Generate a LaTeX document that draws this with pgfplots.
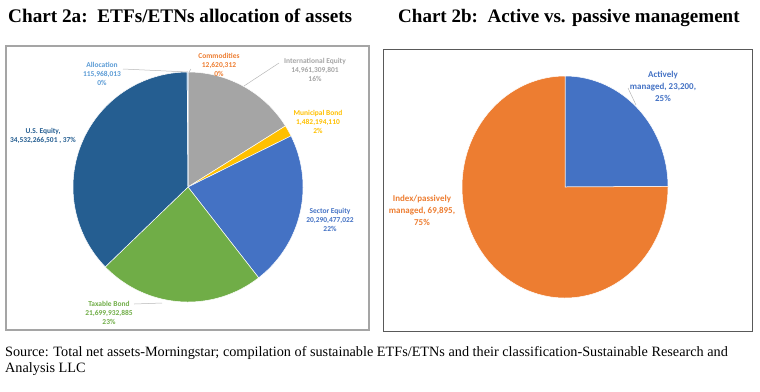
\documentclass[border=0pt]{standalone}
\usepackage{pgfplots}
\pgfplotsset{compat=1.18}
\usepackage{fontspec}
\setmainfont{Liberation Serif}
\newfontfamily\lbl{Carlito}
\definecolor{cUS}{HTML}{255E91}
\definecolor{cGray}{HTML}{A5A5A5}
\definecolor{cYel}{HTML}{FFC000}
\definecolor{cBlue}{HTML}{4472C4}
\definecolor{cGreen}{HTML}{70AD47}
\definecolor{cOrange}{HTML}{ED7D31}
\definecolor{cLBlue}{HTML}{5B9BD5}
% values in billions USD (left) and thousands (right)
\def\vComm{0.012620312}
\def\vIntl{14.961309801}
\def\vMuni{1.482194110}
\def\vSect{20.290477022}
\def\vTax{21.699932885}
\def\vUS{34.532266501}
\def\vAlloc{0.115968013}
\def\vAct{23.200}
\def\vPas{69.895}
\begin{document}
\begin{tikzpicture}[x=1bp,y=-1bp]
\path[use as bounding box] (0,0) rectangle (760,391);
\pgfmathsetmacro\tot{\vComm+\vIntl+\vMuni+\vSect+\vTax+\vUS+\vAlloc}
\pgfmathsetmacro\aA{90}
\pgfmathsetmacro\aB{\aA-360*\vComm/\tot}
\pgfmathsetmacro\aC{\aB-360*\vIntl/\tot}
\pgfmathsetmacro\aD{\aC-360*\vMuni/\tot}
\pgfmathsetmacro\aE{\aD-360*\vSect/\tot}
\pgfmathsetmacro\aF{\aE-360*\vTax/\tot}
\pgfmathsetmacro\aG{\aF-360*\vUS/\tot}
\pgfmathsetmacro\aH{-270}
\pgfmathsetmacro\totb{\vAct+\vPas}
\pgfmathsetmacro\bB{90-360*\vAct/\totb}
% titles
\node[anchor=base west,inner sep=0,font=\fontsize{19.3}{22}\selectfont\bfseries] at (8,22) {Chart 2a:\ \ ETFs/ETNs allocation of assets};
\node[anchor=base west,inner sep=0,font=\fontsize{19.1}{22}\selectfont\bfseries] at (398,22) {Chart 2b:\ \ Active vs. passive management};
% frames
\draw[color=cGray,line width=1.5bp] (6,46) rectangle (369,330);
\draw[color=black!65,line width=1bp] (383,49) rectangle (752,331);
% left pie
\begin{axis}[at={(188bp,-187bp)},anchor=origin,x=115bp,y=115bp,xmin=-1.1,xmax=1.1,ymin=-1.1,ymax=1.1,hide axis,clip=false]
\addplot[fill=cOrange,draw=white,line width=0.5pt,domain=\aB:\aA,samples=2] ({cos(x)},{sin(x)}) -- (axis cs:0,0) -- cycle;
\addplot[fill=cGray,draw=white,line width=0.5pt,domain=\aC:\aB,samples=60] ({cos(x)},{sin(x)}) -- (axis cs:0,0) -- cycle;
\addplot[fill=cYel,draw=white,line width=0.5pt,domain=\aD:\aC,samples=10] ({cos(x)},{sin(x)}) -- (axis cs:0,0) -- cycle;
\addplot[fill=cBlue,draw=white,line width=0.5pt,domain=\aE:\aD,samples=60] ({cos(x)},{sin(x)}) -- (axis cs:0,0) -- cycle;
\addplot[fill=cGreen,draw=white,line width=0.5pt,domain=\aF:\aE,samples=60] ({cos(x)},{sin(x)}) -- (axis cs:0,0) -- cycle;
\addplot[fill=cUS,draw=white,line width=0.5pt,domain=\aG:\aF,samples=90] ({cos(x)},{sin(x)}) -- (axis cs:0,0) -- cycle;
\addplot[fill=cLBlue,draw=white,line width=0.5pt,domain=\aH:\aG,samples=2] ({cos(x)},{sin(x)}) -- (axis cs:0,0) -- cycle;
\end{axis}
% right pie
\begin{axis}[at={(565bp,-187bp)},anchor=origin,x=103bp,y=111bp,xmin=-1.1,xmax=1.1,ymin=-1.1,ymax=1.1,hide axis,clip=false]
\addplot[fill=cBlue,draw=white,line width=0.5pt,domain=\bB:90,samples=60] ({cos(x)},{sin(x)}) -- (axis cs:0,0) -- cycle;
\addplot[fill=cOrange,draw=white,line width=0.5pt,domain=-270:\bB,samples=150] ({cos(x)},{sin(x)}) -- (axis cs:0,0) -- cycle;
\end{axis}
% leader lines
\draw[cGray!80,line width=0.5bp] (123,69) -- (188,72);
\draw[cGray!80,line width=0.5bp] (189,72) -- (191,69);
\draw[cGray!80,line width=0.5bp] (279,63) -- (244,86);
\draw[cGray!80,line width=0.5bp] (134,304) -- (162,303);
\draw[cGray!80,line width=0.5bp] (628,88) -- (636,105);
% labels left
\begin{scope}[every node/.style={inner sep=0,font=\lbl\bfseries\fontsize{7.5}{9}\selectfont,align=center}]
\node[color=cLBlue] at (102,74) {Allocation\\115,968,013\\0\%};
\node[color=cOrange] at (219,65) {Commodities\\12,620,312\\0\%};
\node[color=cGray] at (315,70) {International Equity\\14,961,309,801\\16\%};
\node[color=cYel] at (318,122) {Municipal Bond\\1,482,194,110\\2\%};
\node[color=cBlue] at (330,220) {Sector Equity\\20,290,477,022\\22\%};
\node[color=cGreen] at (109,313) {Taxable Bond\\21,699,932,885\\23\%};
\node[color=cUS] at (43,136) {U.S. Equity,\\34,532,266,501 , 37\%};
\end{scope}
\begin{scope}[every node/.style={inner sep=0,font=\lbl\bfseries\fontsize{9}{12}\selectfont,align=center}]
\node[color=cBlue] at (663,86) {Actively\\managed, 23,200,\\25\%};
\node[color=cOrange] at (422,210) {Index/passively\\managed, 69,895,\\75\%};
\end{scope}
% source
\node[anchor=base west,inner sep=0,font=\fontsize{14.3}{16}\selectfont] at (5,356) {Source: Total net assets-Morningstar; compilation of sustainable ETFs/ETNs and their classification-Sustainable Research and};
\node[anchor=base west,inner sep=0,font=\fontsize{14.3}{16}\selectfont] at (5,372) {Analysis LLC};
\end{tikzpicture}
\end{document}
